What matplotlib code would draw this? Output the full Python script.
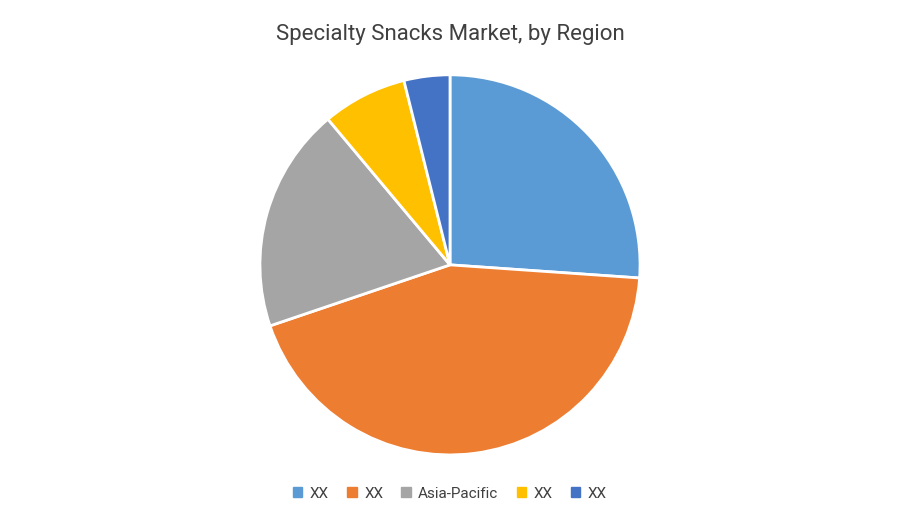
import matplotlib.pyplot as plt
from matplotlib.patches import Patch

labels = ['XX', 'XX', 'Asia-Pacific', 'XX', 'XX']
shares = [26.1, 43.7, 19.1, 7.2, 3.9]
colors = ['#5B9BD5', '#ED7D31', '#A5A5A5', '#FFC000', '#4472C4']

plt.rcParams['font.family'] = ['Roboto', 'DejaVu Sans']
fig = plt.figure(figsize=(9, 5.25), dpi=100)
ax = fig.add_axes([0.1, 0.043, 0.8, 0.905])
ax.pie(shares, colors=colors, startangle=90, counterclock=False,
       wedgeprops=dict(edgecolor='white', linewidth=2))
ax.set_xlim(-1.25, 1.25)
ax.set_ylim(-1.25, 1.25)
ax.set_aspect('equal')
fig.text(0.5, 0.935, 'Specialty Snacks Market, by Region', ha='center', va='center',
         fontsize=16, color='#404040')
handles = [Patch(color=c, label=l) for c, l in zip(colors, labels)]
fig.legend(handles=handles, loc='center', bbox_to_anchor=(0.5, 0.06), ncol=5,
           frameon=False, fontsize=11, handlelength=0.6, handleheight=0.6,
           columnspacing=1.2, handletextpad=0.5, labelcolor='#404040')
fig.savefig('out.png')
